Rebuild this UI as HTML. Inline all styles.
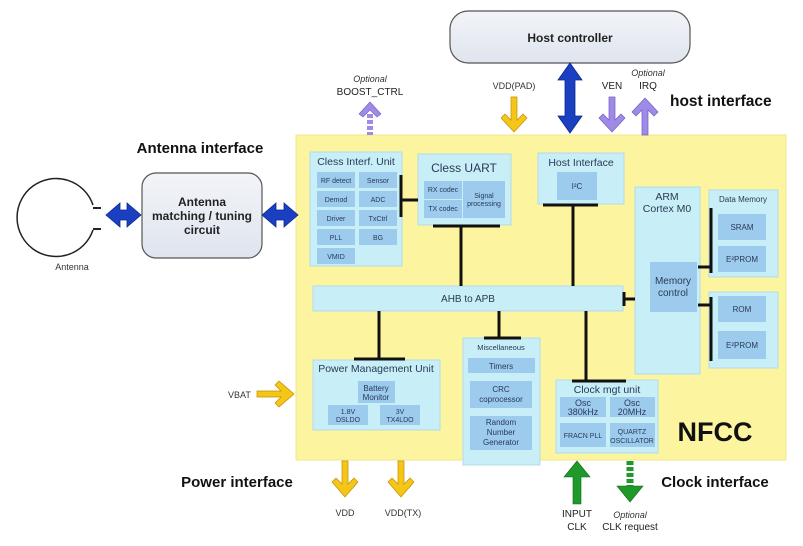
<!DOCTYPE html>
<html><head><meta charset="utf-8"><style>
html,body{margin:0;padding:0;background:#fff;}
svg{display:block;font-family:"Liberation Sans",Arial,sans-serif;}
</style></head><body>
<svg width="803" height="546" viewBox="0 0 803 546" xmlns="http://www.w3.org/2000/svg">
<defs>
<linearGradient id="hc" x1="0" y1="0" x2="0" y2="1"><stop offset="0" stop-color="#f2f4f8"/><stop offset="1" stop-color="#dfe4ee"/></linearGradient>
</defs>
<rect x="450" y="11" width="240" height="52" rx="18" fill="url(#hc)" stroke="#555" stroke-width="1.2"/>
<text x="570" y="42" font-size="12" font-weight="bold" text-anchor="middle" fill="#222">Host controller</text>

<rect x="296" y="135" width="490" height="325" fill="#fdf4a0" stroke="#f0e68a"/>
<text x="715" y="441" font-size="27" font-weight="bold" text-anchor="middle" fill="#111">NFCC</text>

<path d="M93,205 A39,39 0 1 0 93,230" fill="none" stroke="#222" stroke-width="1.5"/>
<line x1="93" y1="208" x2="101" y2="208" stroke="#222" stroke-width="2"/>
<line x1="93" y1="229" x2="101" y2="229" stroke="#222" stroke-width="2"/>
<text x="72" y="270" font-size="9" text-anchor="middle" fill="#333">Antenna</text>
<text x="200" y="153" font-size="15" font-weight="bold" text-anchor="middle" fill="#111">Antenna interface</text>
<rect x="142" y="173" width="120" height="85" rx="14" fill="url(#hc)" stroke="#555" stroke-width="1.2"/>
<text x="202" y="206" font-size="12" font-weight="bold" text-anchor="middle" fill="#222">Antenna</text>
<text x="202" y="220" font-size="12" font-weight="bold" text-anchor="middle" fill="#222">matching / tuning</text>
<text x="202" y="234" font-size="12" font-weight="bold" text-anchor="middle" fill="#222">circuit</text>
<path d="M106,215 L120,203 L120,210 L127,210 L127,203 L141,215 L127,227 L127,220 L120,220 L120,227 Z" fill="#1a3fc0" stroke="#0c2a90" stroke-width="0.8"/>
<path d="M262,215 L276,203 L276,210 L284,210 L284,203 L298,215 L284,227 L284,220 L276,220 L276,227 Z" fill="#1a3fc0" stroke="#0c2a90" stroke-width="0.8"/>

<path d="M570,63 L582,80 L575,80 L575,116 L582,116 L570,133 L558,116 L565,116 L565,80 L558,80 Z" fill="#1a3fc0" stroke="#0c2a90" stroke-width="0.8"/>

<text x="370" y="82" font-size="9" font-style="italic" text-anchor="middle" fill="#333">Optional</text>
<text x="370" y="95" font-size="10" text-anchor="middle" fill="#222">BOOST_CTRL</text>
<text x="514" y="89" font-size="9" text-anchor="middle" fill="#333">VDD(PAD)</text>
<text x="612" y="89" font-size="10" text-anchor="middle" fill="#222">VEN</text>
<text x="648" y="76" font-size="9" font-style="italic" text-anchor="middle" fill="#333">Optional</text>
<text x="648" y="89" font-size="10" text-anchor="middle" fill="#222">IRQ</text>
<text x="670" y="106" font-size="15.5" font-weight="bold" fill="#111">host interface</text>

<line x1="370" y1="114" x2="370" y2="135" stroke="#a08ae8" stroke-width="6" stroke-dasharray="4,2"/>
<path d="M359,114 L370,102 L381,114 L377,117 L370,110 L363,117 Z" fill="#a08ae8" stroke="#7060c0" stroke-width="0.6"/>
<path d="M511,97 L517,97 L517,120 L523,114 L527,118 L514,132 L501,118 L505,114 L511,120 Z" fill="#f5c518" stroke="#c09000" stroke-width="0.7"/>
<path d="M609,97 L615,97 L615,120 L621,114 L625,118 L612,132 L599,118 L603,114 L609,120 Z" fill="#a08ae8" stroke="#7060c0" stroke-width="0.7"/>
<path d="M645,98 L658,112 L654,116 L648,110 L648,135 L642,135 L642,110 L636,116 L632,112 Z" fill="#a08ae8" stroke="#7060c0" stroke-width="0.7"/>

<text x="228" y="398" font-size="9" fill="#333">VBAT</text>
<path d="M257,391 L281,391 L275,385 L279,381 L294,394 L279,407 L275,403 L281,397 L257,397 Z" fill="#f5c518" stroke="#c09000" stroke-width="0.7"/>

<text x="237" y="487" font-size="15" font-weight="bold" text-anchor="middle" fill="#111">Power interface</text>
<path d="M342,461 L348,461 L348,484 L354,478 L358,482 L345,497 L332,482 L336,478 L342,484 Z" fill="#f5c518" stroke="#c09000" stroke-width="0.7"/>
<path d="M398,461 L404,461 L404,484 L410,478 L414,482 L401,497 L388,482 L392,478 L398,484 Z" fill="#f5c518" stroke="#c09000" stroke-width="0.7"/>
<text x="345" y="516" font-size="9" text-anchor="middle" fill="#333">VDD</text>
<text x="403" y="516" font-size="9" text-anchor="middle" fill="#333">VDD(TX)</text>

<path d="M577,461 L590,477 L581,477 L581,504 L573,504 L573,477 L564,477 Z" fill="#1f9a2a" stroke="#0f6a18" stroke-width="0.6"/>
<line x1="630" y1="461" x2="630" y2="488" stroke="#1f9a2a" stroke-width="7" stroke-dasharray="4,2"/>
<path d="M617,486 L643,486 L630,502 Z" fill="#1f9a2a" stroke="#0f6a18" stroke-width="0.6"/>
<text x="577" y="517" font-size="10" text-anchor="middle" fill="#222">INPUT</text>
<text x="577" y="530" font-size="10" text-anchor="middle" fill="#222">CLK</text>
<text x="630" y="518" font-size="9" font-style="italic" text-anchor="middle" fill="#333">Optional</text>
<text x="630" y="530" font-size="10" text-anchor="middle" fill="#222">CLK request</text>
<text x="715" y="487" font-size="15" font-weight="bold" text-anchor="middle" fill="#111">Clock interface</text>

<g fill="#c8eef7" stroke="#b2dcea" stroke-width="1">
<rect x="310" y="152" width="92" height="114"/>
<rect x="418" y="154" width="93" height="71"/>
<rect x="538" y="153" width="86" height="51"/>
<rect x="313" y="286" width="310" height="25"/>
<rect x="635" y="187" width="65" height="187"/>
<rect x="709" y="190" width="69" height="87"/>
<rect x="709" y="292" width="69" height="76"/>
<rect x="313" y="360" width="127" height="70"/>
<rect x="463" y="338" width="77" height="127"/>
<rect x="556" y="380" width="102" height="73"/>
</g>
<g fill="#9ccbee">
<rect x="317" y="172" width="38" height="16"/><rect x="359" y="172" width="38" height="16"/>
<rect x="317" y="191" width="38" height="16"/><rect x="359" y="191" width="38" height="16"/>
<rect x="317" y="210" width="38" height="16"/><rect x="359" y="210" width="38" height="16"/>
<rect x="317" y="229" width="38" height="16"/><rect x="359" y="229" width="38" height="16"/>
<rect x="317" y="248" width="38" height="16"/>
<rect x="424" y="181" width="38" height="18"/><rect x="424" y="200" width="38" height="18"/>
<rect x="463" y="181" width="42" height="37"/>
<rect x="557" y="172" width="40" height="28"/>
<rect x="650" y="262" width="47" height="50"/>
<rect x="718" y="214" width="48" height="26"/><rect x="718" y="246" width="48" height="26"/>
<rect x="718" y="296" width="48" height="26"/><rect x="718" y="331" width="48" height="28"/>
<rect x="358" y="381" width="37" height="22"/>
<rect x="328" y="405" width="40" height="20"/><rect x="380" y="405" width="40" height="20"/>
<rect x="468" y="358" width="67" height="15"/>
<rect x="470" y="381" width="62" height="27"/>
<rect x="470" y="416" width="62" height="34"/>
<rect x="560" y="397" width="46" height="20"/><rect x="610" y="397" width="45" height="20"/>
<rect x="560" y="423" width="46" height="24"/><rect x="610" y="423" width="45" height="24"/>
</g>
<g stroke="#111" stroke-width="3" fill="none">
<line x1="401" y1="175" x2="401" y2="217"/><line x1="401" y1="200" x2="418" y2="200"/>
<line x1="433" y1="226" x2="500" y2="226"/><line x1="461" y1="226" x2="461" y2="286"/>
<line x1="543" y1="205" x2="598" y2="205"/><line x1="573" y1="205" x2="573" y2="286"/>
<line x1="624" y1="292" x2="624" y2="306"/><line x1="624" y1="299" x2="635" y2="299"/>
<line x1="711" y1="208" x2="711" y2="273"/><line x1="698" y1="267" x2="711" y2="267"/>
<line x1="711" y1="297" x2="711" y2="361"/><line x1="698" y1="305" x2="711" y2="305"/>
<line x1="379" y1="311" x2="379" y2="359"/><line x1="354" y1="359" x2="405" y2="359"/>
<line x1="499" y1="311" x2="499" y2="338"/><line x1="484" y1="338" x2="521" y2="338"/>
<line x1="586" y1="311" x2="586" y2="380"/><line x1="572" y1="381" x2="626" y2="381"/>
</g>
<g fill="#2a3a55" text-anchor="middle">
<text x="356" y="165" font-size="10.5">Cless Interf. Unit</text>
<text x="464" y="172" font-size="12">Cless UART</text>
<text x="581" y="166" font-size="10.5">Host Interface</text>
<text x="468" y="302" font-size="10">AHB to APB</text>
<text x="667" y="200" font-size="10.5">ARM</text>
<text x="667" y="212" font-size="10.5">Cortex M0</text>
<text x="743" y="202" font-size="8">Data Memory</text>
<text x="376" y="372" font-size="10.5">Power Management Unit</text>
<text x="501" y="350" font-size="7.5">Miscellaneous</text>
<text x="607" y="393" font-size="10.5">Clock mgt unit</text>
</g>
<g fill="#2a3a55" text-anchor="middle" font-size="7">
<text x="336" y="183">RF detect</text><text x="378" y="183">Sensor</text>
<text x="336" y="202">Demod</text><text x="378" y="202">ADC</text>
<text x="336" y="221">Driver</text><text x="378" y="221">TxCtrl</text>
<text x="336" y="240">PLL</text><text x="378" y="240">BG</text>
<text x="336" y="259">VMID</text>
<text x="443" y="192">RX codec</text><text x="443" y="211">TX codec</text>
<text x="484" y="198">Signal</text><text x="484" y="206">processing</text>
<text x="577" y="189" font-size="8">I²C</text>
<text x="673" y="284" font-size="10">Memory</text><text x="673" y="296" font-size="10">control</text>
<text x="742" y="230" font-size="8">SRAM</text><text x="742" y="262" font-size="8">E²PROM</text>
<text x="742" y="312" font-size="8">ROM</text><text x="742" y="348" font-size="8">E²PROM</text>
<text x="376" y="391" font-size="8">Battery</text><text x="376" y="400" font-size="8">Monitor</text>
<text x="348" y="414">1.8V</text><text x="348" y="422">DSLDO</text>
<text x="400" y="414">3V</text><text x="400" y="422">TX4LDO</text>
<text x="501" y="369" font-size="8">Timers</text>
<text x="501" y="392" font-size="8">CRC</text><text x="501" y="402" font-size="8">coprocessor</text>
<text x="501" y="425" font-size="8">Random</text><text x="501" y="435" font-size="8">Number</text><text x="501" y="445" font-size="8">Generator</text>
<text x="583" y="406" font-size="9">Osc</text><text x="583" y="415" font-size="9">380kHz</text>
<text x="632" y="406" font-size="9">Osc</text><text x="632" y="415" font-size="9">20MHz</text>
<text x="583" y="438">FRACN PLL</text>
<text x="632" y="434">QUARTZ</text><text x="632" y="443">OSCILLATOR</text>
</g>
</svg>
</body></html>
